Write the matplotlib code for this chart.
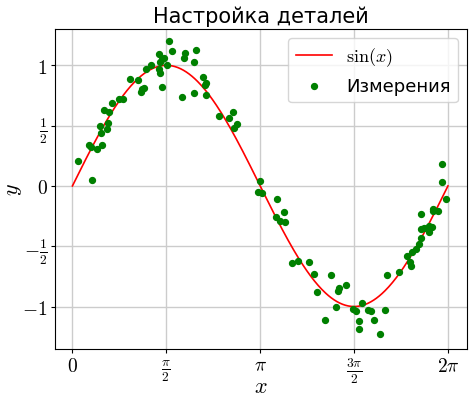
import numpy as np
import matplotlib
matplotlib.use("Agg")
import matplotlib.pyplot as plt

plt.rcParams['mathtext.fontset'] = 'cm'

meas_x = [0.10, 0.32, 0.28, 0.31, 0.41, 0.50, 0.47, 0.46, 0.57, 0.59, 0.62, 0.52, 0.66, 0.78, 0.85,
          0.96, 1.09, 1.14, 1.16, 1.20, 1.23, 1.32, 1.44, 1.47, 1.50, 1.45, 1.47, 1.50, 1.54, 1.58,
          1.61, 1.66, 1.84, 1.86, 1.89, 2.03, 2.07, 2.03, 2.19, 2.21, 2.23, 2.24, 2.45, 2.62, 2.69,
          2.71, 2.76, 3.10, 3.13, 3.17, 3.43, 3.41, 3.48, 3.54, 3.55, 3.67, 3.77, 3.96, 4.04, 4.10,
          4.23, 4.32, 4.41, 4.44, 4.46, 4.58, 4.69, 4.75, 4.79, 4.79, 4.85, 4.94, 5.00, 5.05, 5.14,
          5.23, 5.26, 5.46, 5.60, 5.64, 5.66, 5.68, 5.75, 5.80, 5.84, 5.83, 5.89, 5.96, 5.96, 6.01,
          5.84, 6.03, 6.03, 6.12, 6.25, 6.19, 6.19]
meas_y = [0.21, 0.05, 0.34, 0.32, 0.31, 0.34, 0.44, 0.50, 0.47, 0.52, 0.61, 0.63, 0.69, 0.72, 0.72,
          0.89, 0.88, 0.78, 0.80, 0.81, 0.97, 1.00, 0.97, 0.94, 0.82, 1.09, 1.03, 1.05, 1.06, 1.00,
          1.20, 1.12, 0.74, 1.06, 1.10, 1.03, 1.13, 0.77, 0.90, 0.84, 0.85, 0.75, 0.58, 0.56, 0.61,
          0.48, 0.51, -0.05, 0.04, -0.06, -0.11, -0.26, -0.29, -0.22, -0.30, -0.64, -0.62, -0.63, -0.73, -0.88,
          -1.11, -0.74, -1.00, -0.87, -0.85, -0.82, -1.02, -1.04, -1.12, -1.19, -0.97, -1.03, -1.04, -1.11, -1.23,
          -1.03, -0.74, -0.71, -0.58, -0.63, -0.66, -0.55, -0.52, -0.48, -0.43, -0.36, -0.35, -0.38, -0.33, -0.34,
          -0.23, -0.19, -0.21, -0.21, -0.11, 0.03, 0.18]

xticks = [0, np.pi/2, np.pi, 3*np.pi/2, 2*np.pi]
xlabels = [r'$0$', r'$\frac{\pi}{2}$', r'$\pi$', r'$\frac{3\pi}{2}$', r'$2\pi$']
yticks = [-1, -0.5, 0, 0.5, 1]
ylabels = [r'$-1$', r'$-\frac{1}{2}$', r'$0$', r'$\frac{1}{2}$', r'$1$']

t = np.linspace(0, 2*np.pi, 400)

fig, ax = plt.subplots(figsize=(4.74, 4.02), dpi=100)
ax.plot(t, np.sin(t), color='red', lw=1.2, label=r'$\sin(x)$')
ax.scatter(meas_x, meas_y, color='green', s=18, zorder=3, label='Измерения')
ax.set_xticks(xticks)
ax.set_xticklabels(xlabels, fontsize=14)
ax.set_yticks(yticks)
ax.set_yticklabels(ylabels, fontsize=14)
ax.tick_params(length=3, pad=2)
ax.set_xlim(-0.3, 6.6)
ax.set_ylim(-1.35, 1.3)
ax.grid(True, color='#cccccc', lw=1)
ax.set_axisbelow(True)
ax.set_xlabel(r'$x$', fontsize=16)
ax.set_ylabel(r'$y$', fontsize=16)
ax.xaxis.set_label_coords(0.5, -0.085)
ax.yaxis.set_label_coords(-0.075, 0.5)
ax.set_title('Настройка деталей', fontsize=15, pad=5)
ax.legend(loc='upper right', fontsize=13)
fig.subplots_adjust(left=0.115, right=0.985, top=0.925, bottom=0.13)
fig.savefig('out.png')
